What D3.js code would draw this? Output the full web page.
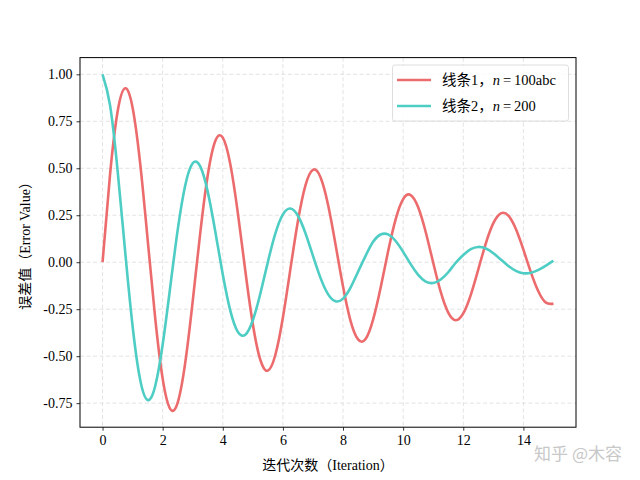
<!DOCTYPE html>
<html>
<head>
<meta charset="utf-8">
<script src="https://cdn.jsdelivr.net/npm/d3@7"></script>
<style>
  body { margin: 0; background: #fff; }
  svg text { font-family: "Liberation Serif", "Noto Sans CJK SC", serif; }
</style>
</head>
<body>
<svg id="chart" width="640" height="480"></svg>
<script>
// iteration samples (step 0.25, 0 .. 15)
const iterations = d3.range(61).map(i => i * 0.25);

// 线条1, n=100abc
const series1 = [
  0, 0.4676, 0.8004, 0.9254, 0.8227, 0.5282, 0.1214, -0.2945, -0.6196, -0.7805,
  -0.7468, -0.5359, -0.2070, 0.1554, 0.4630, 0.6447, 0.6632, 0.5221, 0.2628, -0.0468,
  -0.3299, -0.5204, -0.5769, -0.4926, -0.2945, -0.0355, 0.2193, 0.4093, 0.4919, 0.4528,
  0.3072, 0.0951, -0.1294, -0.3119, -0.4109, -0.4088, -0.3054, -0.1358, 0.0580, 0.2284,
  0.3359, 0.3577, 0.2928, 0.1610, -0.0030, -0.1582, -0.2679, -0.3086, -0.2728, -0.1738,
  -0.0379, 0.1002, 0.2078, 0.2604, 0.2479, 0.1768, 0.0668, -0.0538, -0.1557, -0.2151,
  -0.2204
];

// 线条2, n=200
const series2 = [
  1, 0.8348, 0.4889, 0.0609, -0.3407, -0.6239, -0.7334, -0.6600, -0.4381, -0.1344,
  0.1721, 0.4088, 0.5270, 0.5098, 0.3744, 0.1637, -0.0654, -0.2573, -0.3704, -0.3856,
  -0.3087, -0.1664, 0.0015, 0.1530, 0.2542, 0.2859, 0.2473, 0.1542, 0.0337, -0.0833,
  -0.1695, -0.2076, -0.1934, -0.1349, -0.0503, 0.0341, 0.1091, 0.1477, 0.1479, 0.1132,
  0.0552, -0.0103, -0.0671, -0.1027, -0.1108, -0.0920, -0.0534, -0.0029, 0.0385, 0.0696,
  0.0814, 0.0729, 0.0481, 0.0142, -0.0196, -0.0457, -0.0585, -0.0563, -0.0411, -0.0179,
  0.0077
];

const xTicks = [0, 2, 4, 6, 8, 10, 12, 14];
const yTicks = [-0.75, -0.5, -0.25, 0, 0.25, 0.5, 0.75, 1.0];

const legendLabels = ['线条1，', '线条2，'];
const legendN = ['100abc', '200'];
const lineColors = ['#ec6b6d', '#4ecdc4'];

const svg = d3.select('#chart');
const m = {l: 80, r: 576, t: 57.6, b: 427.2};

const x = d3.scaleLinear().domain([-0.75, 15.75]).range([m.l, m.r]);
const y = d3.scaleLinear().domain([-0.878, 1.089]).range([m.b, m.t]);

// grid
const grid = svg.append('g').attr('class', 'g_grid');
grid.selectAll('.vgrid')
  .data(xTicks).enter()
  .append('line')
  .attr('x1', d => x(d)).attr('x2', d => x(d))
  .attr('y1', m.t).attr('y2', m.b)
  .attr('stroke', '#dcdcdc')
  .attr('stroke-width', 0.8)
  .attr('stroke-dasharray', '4,2.5');
grid.selectAll('.hgrid')
  .data(yTicks).enter()
  .append('line')
  .attr('x1', m.l).attr('x2', m.r)
  .attr('y1', d => y(d)).attr('y2', d => y(d))
  .attr('stroke', '#dcdcdc')
  .attr('stroke-width', 0.8)
  .attr('stroke-dasharray', '4,2.5');

// curves
const line = d3.line()
  .x(d => x(d[0]))
  .y(d => y(d[1]))
  .curve(d3.curveNatural);

[series1, series2].forEach((s, i) => {
  svg.append('path')
    .datum(iterations.map((t, j) => [t, s[j]]))
    .attr('fill', 'none')
    .attr('stroke', lineColors[i])
    .attr('stroke-width', 2.6)
    .attr('stroke-linejoin', 'round')
    .attr('d', line);
});

// axes
const xAxis = svg.append('g')
  .attr('transform', `translate(0,${m.b})`)
  .call(d3.axisBottom(x).tickValues(xTicks).tickSize(3.5).tickPadding(4).tickFormat(d3.format('d')));
const yAxis = svg.append('g')
  .attr('transform', `translate(${m.l},0)`)
  .call(d3.axisLeft(y).tickValues(yTicks).tickSize(3.5).tickPadding(4).tickFormat(d3.format('.2f')));

[xAxis, yAxis].forEach(a => {
  a.select('.domain').remove();
  a.selectAll('.tick line').attr('stroke', '#000').attr('stroke-width', 0.8);
  a.selectAll('.tick text')
    .attr('fill', '#000')
    .style('font-size', '14px')
    .style('font-family', '"Liberation Serif", serif');
});
yAxis.selectAll('.tick text').text(d => d3.format('.2f')(d).replace('−', '-'));

// frame
svg.append('rect')
  .attr('x', m.l).attr('y', m.t)
  .attr('width', m.r - m.l).attr('height', m.b - m.t)
  .attr('fill', 'none')
  .attr('stroke', '#000')
  .attr('stroke-width', 1);

// axis labels
svg.append('text')
  .attr('x', (m.l + m.r) / 2).attr('y', 470)
  .attr('text-anchor', 'middle')
  .style('font-size', '14px')
  .text('迭代次数（Iteration）');

svg.append('text')
  .attr('transform', `translate(30,${(m.t + m.b) / 2}) rotate(-90)`)
  .attr('text-anchor', 'middle')
  .style('font-size', '14px')
  .text('误差值（Error Value）');

// legend
const lg = svg.append('g').attr('class', 'g_legend');
lg.append('rect')
  .attr('x', 392.5).attr('y', 65)
  .attr('width', 176).attr('height', 56)
  .attr('rx', 2.5)
  .attr('fill', '#fff')
  .attr('fill-opacity', 0.85)
  .attr('stroke', '#d6d6d6')
  .attr('stroke-width', 0.8);

legendLabels.forEach((lab, i) => {
  const ly = 80 + i * 26;
  lg.append('line')
    .attr('x1', 397).attr('x2', 431)
    .attr('y1', ly).attr('y2', ly)
    .attr('stroke', lineColors[i])
    .attr('stroke-width', 2.6);
  const t = lg.append('text')
    .attr('x', 442).attr('y', ly + 5)
    .style('font-size', '14.5px');
  t.append('tspan').text(lab);
  t.append('tspan').style('font-style', 'italic').text('n');
  t.append('tspan').text('\u2009=\u2009' + legendN[i]);
});

// watermark
svg.append('text')
  .attr('x', 622).attr('y', 460)
  .attr('text-anchor', 'end')
  .attr('fill', '#c8c8c8')
  .style('font-size', '17px')
  .style('font-family', '"Noto Sans CJK SC", sans-serif')
  .text('知乎 @木容');
</script>
</body>
</html>
